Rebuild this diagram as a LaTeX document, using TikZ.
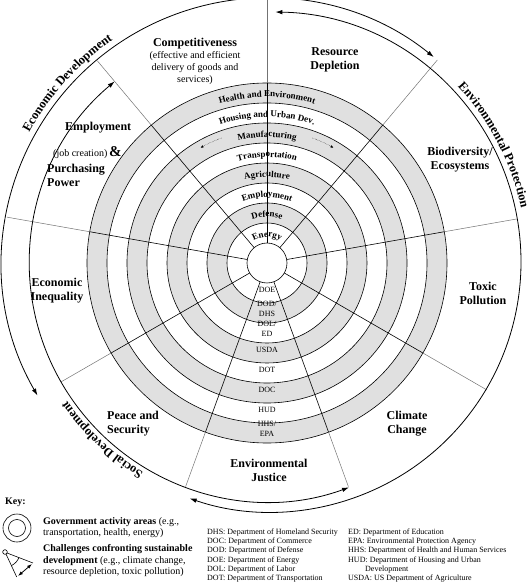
\documentclass[tikz,border=0pt]{standalone}
\usepackage{fontspec}
\setmainfont{Liberation Serif}
\usetikzlibrary{arrows.meta,decorations.text}
\definecolor{ringgray}{RGB}{224,224,224}
\newcommand{\ringfont}{\fontsize{9}{9}\selectfont\bfseries}
\newcommand{\pillarfont}{\fontsize{12.5}{12.5}\selectfont\bfseries}
\newcommand{\notefont}{\fontsize{10}{11.5}\selectfont\mdseries}

\begin{document}
\begin{tikzpicture}[x=1pt, y=1pt,
  every node/.style={inner sep=0pt},
  challenge/.style={font=\fontsize{12}{14}\selectfont\bfseries, align=center},
  note/.style={font=\notefont},
  acro/.style={font=\fontsize{8}{9.5}\selectfont, align=center},
  dept/.style={font=\fontsize{8}{9}\selectfont, anchor=base west},
  pillar/.style={line width=0.8pt, {Latex[length=7pt,width=4.5pt]}-{Latex[length=7pt,width=4.5pt]}},
  spoke/.style={line width=0.6pt},
  spokeout/.style={line width=0.5pt, draw=black!55}]
\useasboundingbox (-267,-320) rectangle (263,263);

\fill[ringgray] (0,0) circle (180);
\fill[white] (0,0) circle (160);
\fill[ringgray] (0,0) circle (140);
\fill[white] (0,0) circle (120);
\fill[ringgray] (0,0) circle (100);
\fill[white] (0,0) circle (80);
\fill[ringgray] (0,0) circle (60);
\fill[white] (0,0) circle (40);
\foreach \r in {20,40,...,180}
  \draw[spoke] (0,0) circle (\r);

\foreach \a/\e in {90/264, 50/265, 10/254, -30/254, -70/238, -110/238, -150/238, 170/264, 130/264} {
  \draw[spoke] (\a:20) -- (\a:180);
  \draw[spokeout] (\a:180) -- (\a:\e);
}

\path[decorate, decoration={text along path, text align=center, text={|\ringfont|Energy}}] (150:26) arc[start angle=150, end angle=30, radius=26];
\path[decorate, decoration={text along path, text align=center, text={|\ringfont|Defense}}] (150:46) arc[start angle=150, end angle=30, radius=46];
\path[decorate, decoration={text along path, text align=center, text={|\ringfont|Employment}}] (150:66) arc[start angle=150, end angle=30, radius=66];
\path[decorate, decoration={text along path, text align=center, text={|\ringfont|Agriculture}}] (150:86) arc[start angle=150, end angle=30, radius=86];
\path[decorate, decoration={text along path, text align=center, text={|\ringfont|Transportation}}] (150:106) arc[start angle=150, end angle=30, radius=106];
\path[decorate, decoration={text along path, text align=center, text={|\ringfont|Manufacturing}}] (150:126) arc[start angle=150, end angle=30, radius=126];
\path[decorate, decoration={text along path, text align=center, text={|\ringfont|Housing and Urban Dev.}}] (150:146) arc[start angle=150, end angle=30, radius=146];
\path[decorate, decoration={text along path, text align=center, text={|\ringfont|Health and Environment}}] (150:166) arc[start angle=150, end angle=30, radius=166];

\draw[densely dotted, -{Latex[length=3pt,width=2.5pt]}] (110:133) arc[start angle=110, end angle=120, radius=133];
\draw[densely dotted, -{Latex[length=3pt,width=2.5pt]}] (70:133) arc[start angle=70, end angle=60, radius=133];

\node[acro] (doe) at (-90:27) {DOE};
\node[acro] (dod) at (-90:46) {DOD/\\DHS};
\node[acro] (dol) at (-90:66) {DOL/\\ED};
\node[acro] (usda) at (-90:87) {USDA};
\node[acro] (dot) at (-90:107) {DOT};
\node[acro] (doc) at (-90:127) {DOC};
\node[acro] (hud) at (-90:147) {HUD};
\node[acro] (hhs) at (-90:166) {HHS/\\EPA};

\draw[pillar] (210:265) arc[start angle=210, end angle=51, radius=265];
\draw[pillar] ([shift={(4,1)}]89:250) arc[start angle=89, end angle=-109, radius=250];
\draw[pillar] (130:237) arc[start angle=130, end angle=290, radius=238];

\path[decorate, decoration={text along path, text align=center, text={|\pillarfont|Economic Development}}] (179:271) arc[start angle=179, end angle=97, radius=271];
\path[decorate, decoration={text along path, text align=center, text={|\pillarfont|Environmental Protection}}] (70:260) arc[start angle=70, end angle=-15, radius=260];
\path[decorate, decoration={text along path, text align=center, text={|\pillarfont|Social Development}}] (-93:243) arc[start angle=-93, end angle=-173, radius=243];

\node[challenge] (competitiveness) at (-72,202) {Competitiveness\\[-2pt]{\notefont (effective and efficient}\\[-2pt]{\notefont delivery of goods and}\\[-2pt]{\notefont services)}};
\node[challenge] (resource) at (68,203) {Resource\\Depletion};
\node[challenge] (biodiversity) at (193,103) {Biodiversity/\\Ecosystems};
\node[challenge] (toxic) at (216,-30) {Toxic\\Pollution};
\node[challenge] (climate) at (140,-161) {Climate\\Change};
\node[challenge] (justice) at (2,-207) {Environmental\\Justice};
\node[challenge, align=left, anchor=west] (peace) at (-160,-161) {Peace and\\Security};
\node[challenge] (inequality) at (-210,-28) {Economic\\Inequality};
\node[challenge, anchor=west] (employment) at (-202,135) {Employment};
\node[anchor=west] (jobcreation) at (-214,110) {\notefont (job creation)\,{\fontsize{15}{12}\selectfont\bfseries\&}};
\node[challenge, align=left, anchor=west] (purchasing) at (-220,88) {Purchasing\\Power};

\node[font=\fontsize{10}{12}\selectfont\bfseries, anchor=west] (key) at (-262,-239) {Key:};
\draw[line width=0.6pt] (-250,-265) circle (14);
\draw[line width=0.6pt] (-250,-265) circle (8.5);
\node[note, anchor=west, align=left] (govkey) at (-224,-264.5) {\textbf{Government activity areas} (e.g.,\\transportation, health, energy)};
\draw[line width=0.6pt] (-262,-289) circle (2.3);
\draw[line width=0.6pt] (-261,-291) -- (-250.3,-314);
\draw[line width=0.6pt] (-260,-290) -- (-234,-300);
\draw[line width=0.6pt] (-262,-289) ++(-21:15) arc[start angle=-21, end angle=-65, radius=15];
\draw[line width=0.8pt, {Latex[length=5pt,width=3.5pt]}-{Latex[length=5pt,width=3.5pt]}] (-249,-313) -- (-235,-301);
\node[note, anchor=west, align=left] (chalkey) at (-224,-298) {\textbf{Challenges confronting sustainable}\\\textbf{development} (e.g., climate change,\\resource depletion, toxic pollution)};

\foreach \t [count=\i] in {DHS: Department of Homeland Security, DOC: Department of Commerce, DOD: Department of Defense, DOE: Department of Energy, DOL: Department of Labor, DOT: Department of Transportation}
  \node[dept] (deptl\i) at (-60, {-271.5-9.2*(\i-1)}) {\t};
\foreach \t [count=\i] in {ED: Department of Education, EPA: Environmental Protection Agency, HHS: Department of Health and Human Services, HUD: Department of Housing and Urban, \hspace*{17pt}Development, USDA: US Department of Agriculture}
  \node[dept] (deptr\i) at (81, {-271.5-9.2*(\i-1)}) {\t};
\end{tikzpicture}
\end{document}
